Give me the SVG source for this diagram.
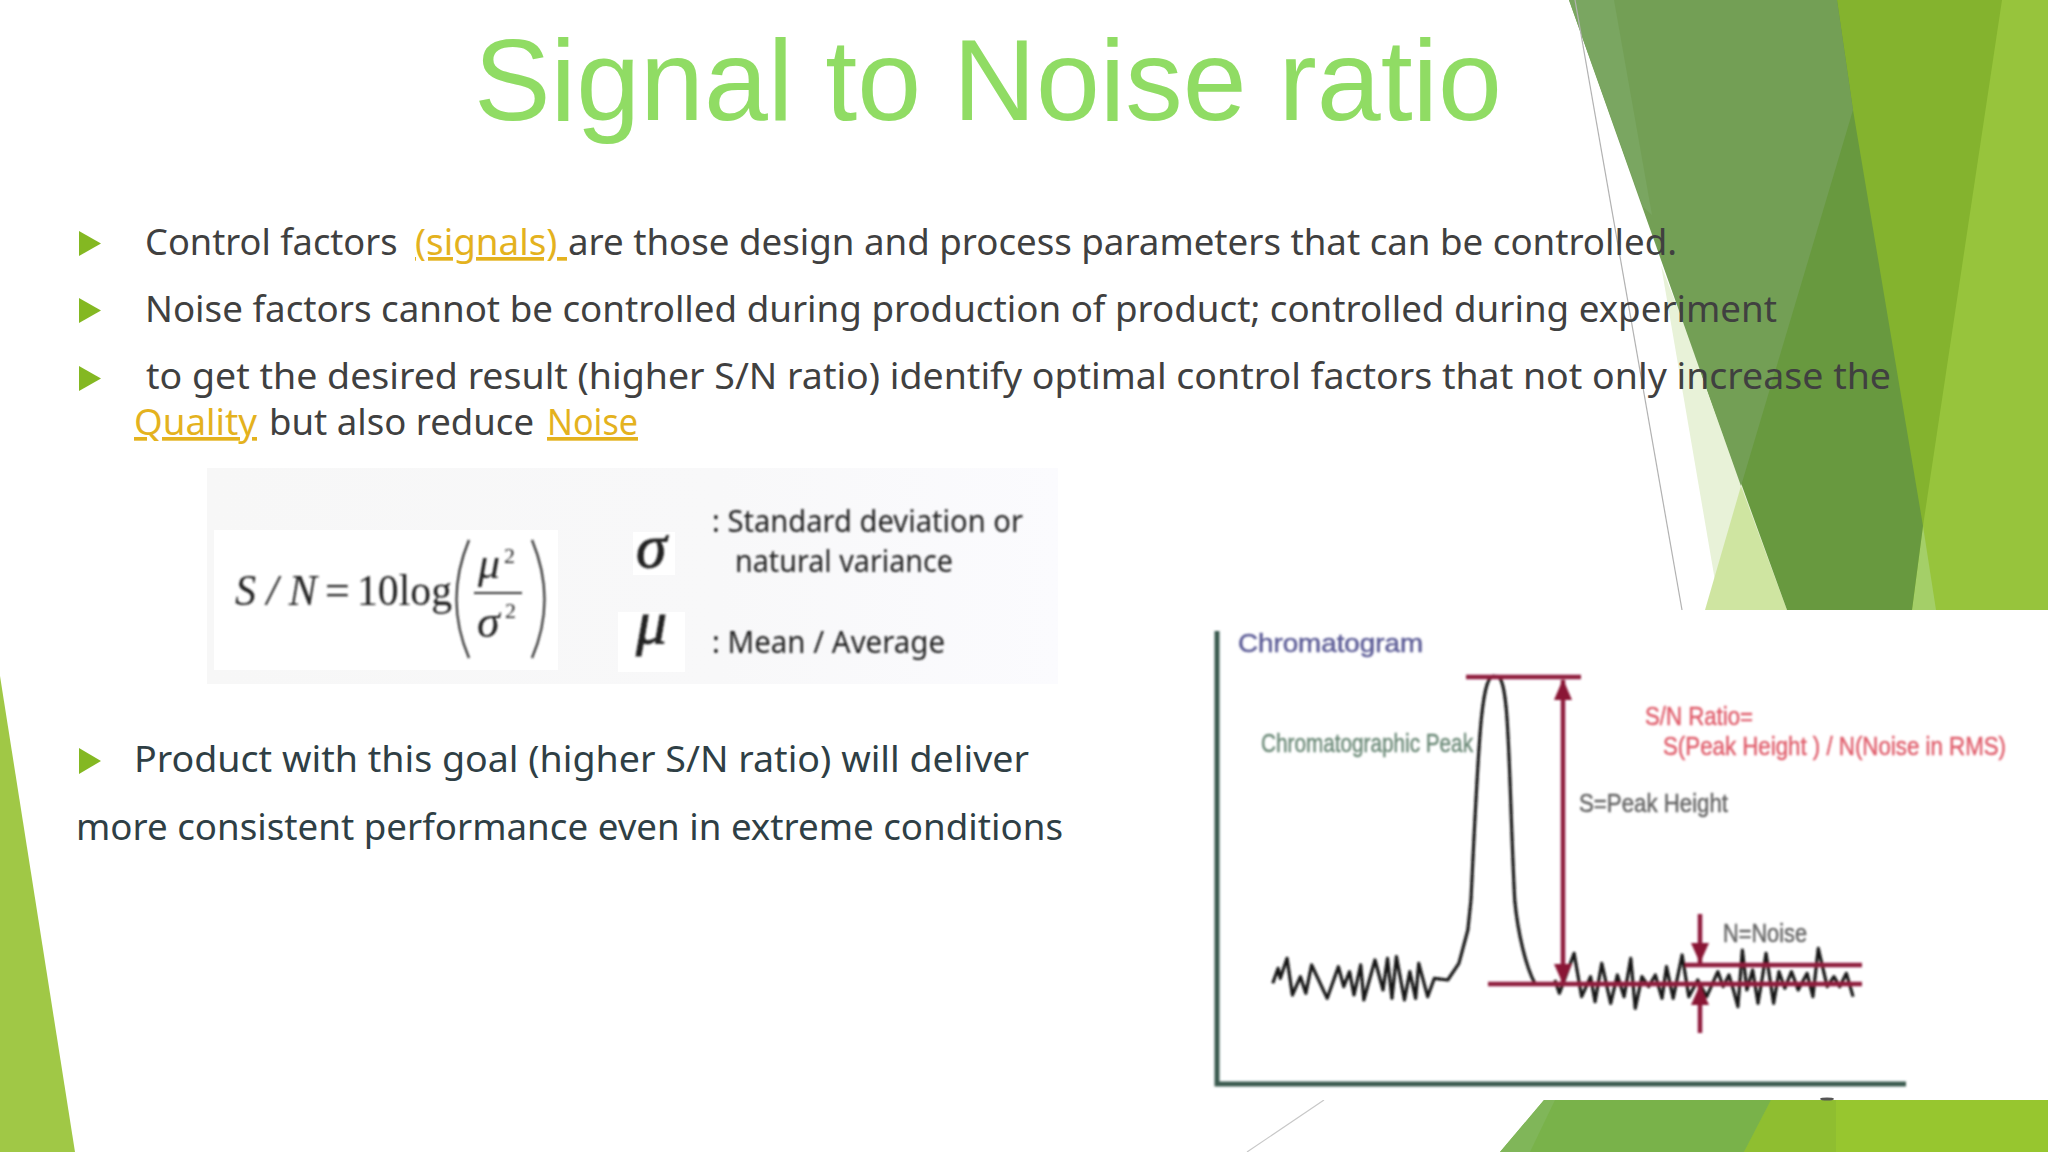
<svg xmlns="http://www.w3.org/2000/svg" width="2048" height="1152" viewBox="0 0 2048 1152">
<style>
.b{font-family:"Noto Sans",sans-serif;font-size:37px;fill:#404040;font-variant-ligatures:none}
.d{fill:#2f3f45}
.u{fill:#e4b21e;text-decoration:underline}
.s{font-family:"Liberation Serif",serif;fill:#222}
.i{font-style:italic}
.c{font-family:"Noto Sans",sans-serif;font-size:30px;fill:#222}
.h{font-family:"Liberation Sans",sans-serif;font-size:26px;stroke-width:.5}
.bul{fill:#84b822}
.r{stroke:#8f1a3c;stroke-width:4.5;fill:none}
.rf{fill:#8a1434}
.k{stroke:#161616;stroke-width:3.2;fill:none;stroke-linejoin:round;vector-effect:non-scaling-stroke}
</style>
<defs>
<filter id="soft" x="-10%" y="-10%" width="120%" height="120%"><feGaussianBlur stdDeviation="0.9"/></filter>
<linearGradient id="fbg" x1="0" x2="1" y1="0" y2="0"><stop offset="0" stop-color="#f7f7f7"/><stop offset="0.6" stop-color="#f8f8f9"/><stop offset="1" stop-color="#fbfbfe"/></linearGradient>
</defs>
<rect width="2048" height="1152" fill="#fff"/>
<g id="decor-top">
<polygon points="1661,265 1760,520 1787,610 1720,610" fill="#e8f2d8"/>
<polygon points="1741,486 1787,610 1705,610" fill="#cfe5a1"/>
<polygon points="1980,0 2048,0 2048,610 1890,610" fill="#97c43c"/>
<polygon points="1800,0 2002,0 1923,526 1850,526" fill="#84b32e"/>
<polygon points="1923,526 1936,610 1912,610" fill="#a4cf68"/>
<polygon points="1837,0 1853,110 1923,526 1912,610 1787,610 1700,370" fill="#68993f"/>
<polygon points="1569,0 1837,0 1853,110 1741,486" fill="#739f55"/>
<polygon points="1569,0 1614,0 1652,215 1643,207" fill="#7aa661"/>
<line x1="1575" y1="0" x2="1682" y2="610" stroke="#b2b2b2" stroke-width="1.2"/>
</g>
<g id="decor-bottom">
<polygon points="0,676 75,1152 0,1152" fill="#a0c846"/>
<line x1="1324" y1="1100" x2="1247" y2="1152" stroke="#c8c8c8" stroke-width="1.2"/>
<polygon points="1760,1100 2048,1100 2048,1152 1730,1152" fill="#97c62f"/>
<polygon points="1771,1100 1836,1100 1836,1152 1744,1152" fill="#8fbe30"/>
<polygon points="1544,1100 1771,1100 1744,1152 1500,1152" fill="#79b24a"/>
<polygon points="1544,1100 1555,1100 1530,1152 1500,1152" fill="#80b659"/>
</g>
<text id="title" x="474" y="120" font-family="Liberation Sans, sans-serif" font-size="115" fill="#90dc64" textLength="1028" lengthAdjust="spacingAndGlyphs">Signal to Noise ratio</text>
<g id="bullets">
<polygon class="bul" points="79,231 101,243.5 79,256"/>
<polygon class="bul" points="79,298 101,310.5 79,323"/>
<polygon class="bul" points="79,366 101,378.5 79,391"/>
<polygon class="bul" points="79,748 101,761 79,774"/>
</g>
<g id="body-text">
<text class="b" y="255"><tspan x="145" textLength="262" lengthAdjust="spacingAndGlyphs">Control factors </tspan><tspan class="u" x="415" textLength="152" lengthAdjust="spacingAndGlyphs" xml:space="preserve">(signals) </tspan><tspan x="568" textLength="1109" lengthAdjust="spacingAndGlyphs">are those design and process parameters that can be controlled.</tspan></text>
<text class="b" y="322" x="145" textLength="1632" lengthAdjust="spacingAndGlyphs">Noise factors cannot be controlled during production of product; controlled during experiment</text>
<text class="b" y="389" x="146" textLength="1745" lengthAdjust="spacingAndGlyphs">to get the desired result (higher S/N ratio) identify optimal control factors that not only increase the</text>
<text class="b" y="435"><tspan class="u" x="134" textLength="123" lengthAdjust="spacingAndGlyphs">Quality</tspan><tspan x="269" textLength="265" lengthAdjust="spacingAndGlyphs">but also reduce</tspan><tspan class="u" x="547" textLength="91" lengthAdjust="spacingAndGlyphs">Noise</tspan></text>
<text class="b d" y="772" x="134" textLength="895" lengthAdjust="spacingAndGlyphs">Product with this goal (higher S/N ratio) will deliver</text>
<text class="b d" y="840" x="76" textLength="987" lengthAdjust="spacingAndGlyphs">more consistent performance even in extreme conditions</text>
</g>
<g id="formula">
<rect x="207" y="468" width="851" height="216" fill="url(#fbg)"/>
<rect x="214" y="530" width="344" height="140" fill="#fff"/>
<rect x="633" y="532" width="42" height="43" fill="#fff"/>
<rect x="618" y="612" width="67" height="60" fill="#fff"/>
<g filter="url(#soft)">
<text class="s" font-size="44" y="605"><tspan class="i" x="235" textLength="82" lengthAdjust="spacingAndGlyphs">S / N</tspan><tspan x="325">=</tspan><tspan x="357" textLength="95" lengthAdjust="spacingAndGlyphs">10log</tspan></text>
<path d="M469,540 Q444,600 469,658 M532,540 Q557,600 532,658" stroke="#333" stroke-width="2.2" fill="none"/>
<text class="s i" font-size="44" x="478" y="578">μ</text>
<text class="s" font-size="22" x="504" y="563">2</text>
<line x1="474" y1="593" x2="522" y2="593" stroke="#333" stroke-width="2"/>
<text class="s i" font-size="46" x="477" y="637">σ</text>
<text class="s" font-size="22" x="505" y="618">2</text>
<text class="s i" font-size="62" x="636" y="567" stroke="#222" stroke-width=".8">σ</text>
<text class="s i" font-size="62" x="636" y="643" stroke="#222" stroke-width=".8">μ</text>
<text class="c" x="712" y="532" textLength="311" lengthAdjust="spacingAndGlyphs">: Standard deviation or</text>
<text class="c" x="735" y="572" textLength="218" lengthAdjust="spacingAndGlyphs">natural variance</text>
<text class="c" x="712" y="653" textLength="233" lengthAdjust="spacingAndGlyphs">: Mean / Average</text>
</g>
</g>
<g id="chromatogram">
<rect x="1190" y="610" width="858" height="490" fill="#fff"/>
<ellipse cx="1827" cy="1099" rx="7" ry="1.6" fill="#555"/>
<g filter="url(#soft)">
<path d="M1217,631 V1084 H1906" fill="none" stroke="#3a5a50" stroke-width="5"/>
<text class="h" x="1238" y="652" fill="#5c5c96" stroke="#5c5c96" font-size="29" textLength="185" lengthAdjust="spacingAndGlyphs">Chromatogram</text>
<text class="h" x="1261" y="752" fill="#6c8a78" stroke="#6c8a78" font-size="24" textLength="212" lengthAdjust="spacingAndGlyphs">Chromatographic Peak</text>
<text class="h" x="1645" y="725" fill="#e0606e" stroke="#e0606e" textLength="108" lengthAdjust="spacingAndGlyphs">S/N Ratio=</text>
<text class="h" x="1663" y="755" fill="#e0606e" stroke="#e0606e" textLength="343" lengthAdjust="spacingAndGlyphs">S(Peak Height ) / N(Noise in RMS)</text>
<text class="h" x="1579" y="812" fill="#666" stroke="#666" textLength="149" lengthAdjust="spacingAndGlyphs">S=Peak Height</text>
<text class="h" x="1723" y="942" fill="#666" stroke="#666" textLength="84" lengthAdjust="spacingAndGlyphs">N=Noise</text>
<g id="trace" transform="translate(1200,900) scale(0.4464,0.3333)">
<polyline class="k" points="163,250 175,205 180,235 195,175 207,285 225,230 237,280 250,195 285,295 310,200 322,260 335,215 345,285 360,195 367,300 392,180 410,270 420,175 430,295 440,170 458,300 470,215 483,295 490,190 510,290 525,235 555,240 580,190 600,90 607,0"/>
<path class="k" d="M607,0 C625,-500 630,-690 662,-670 C695,-690 690,-400 705,0 C712,100 730,200 750,250"/>
<polyline class="k" points="795,240 805,280 838,160 855,290 875,230 885,305 900,190 920,310 935,225 950,290 965,175 975,325 990,230 1005,260 1020,225 1035,295 1045,200 1060,295 1080,165 1095,290 1115,240 1135,290 1160,215 1172,260 1185,225 1195,270 1205,320 1215,150 1225,270 1238,210 1250,310 1260,230 1268,160 1285,310 1297,215 1310,265 1325,215 1340,270 1360,220 1373,290 1385,145 1405,260 1420,230 1433,260 1448,220 1463,290"/>
</g>
<g id="connectors">
<line class="r" x1="1466" y1="677" x2="1581" y2="677" stroke-width="5.5"/>
<line class="r" x1="1563" y1="680" x2="1563" y2="984"/>
<polygon class="rf" points="1563,679 1554,700 1572,700"/>
<polygon class="rf" points="1563,984 1554,964 1572,964"/>
<line class="r" x1="1488" y1="984" x2="1862" y2="984"/>
<line class="r" x1="1685" y1="965" x2="1862" y2="965"/>
<line class="r" x1="1700" y1="914" x2="1700" y2="963"/>
<polygon class="rf" points="1700,963 1691,943 1709,943"/>
<line class="r" x1="1700" y1="985" x2="1700" y2="1033"/>
<polygon class="rf" points="1700,985 1691,1005 1709,1005"/>
</g>
</g>
</g>
</svg>
